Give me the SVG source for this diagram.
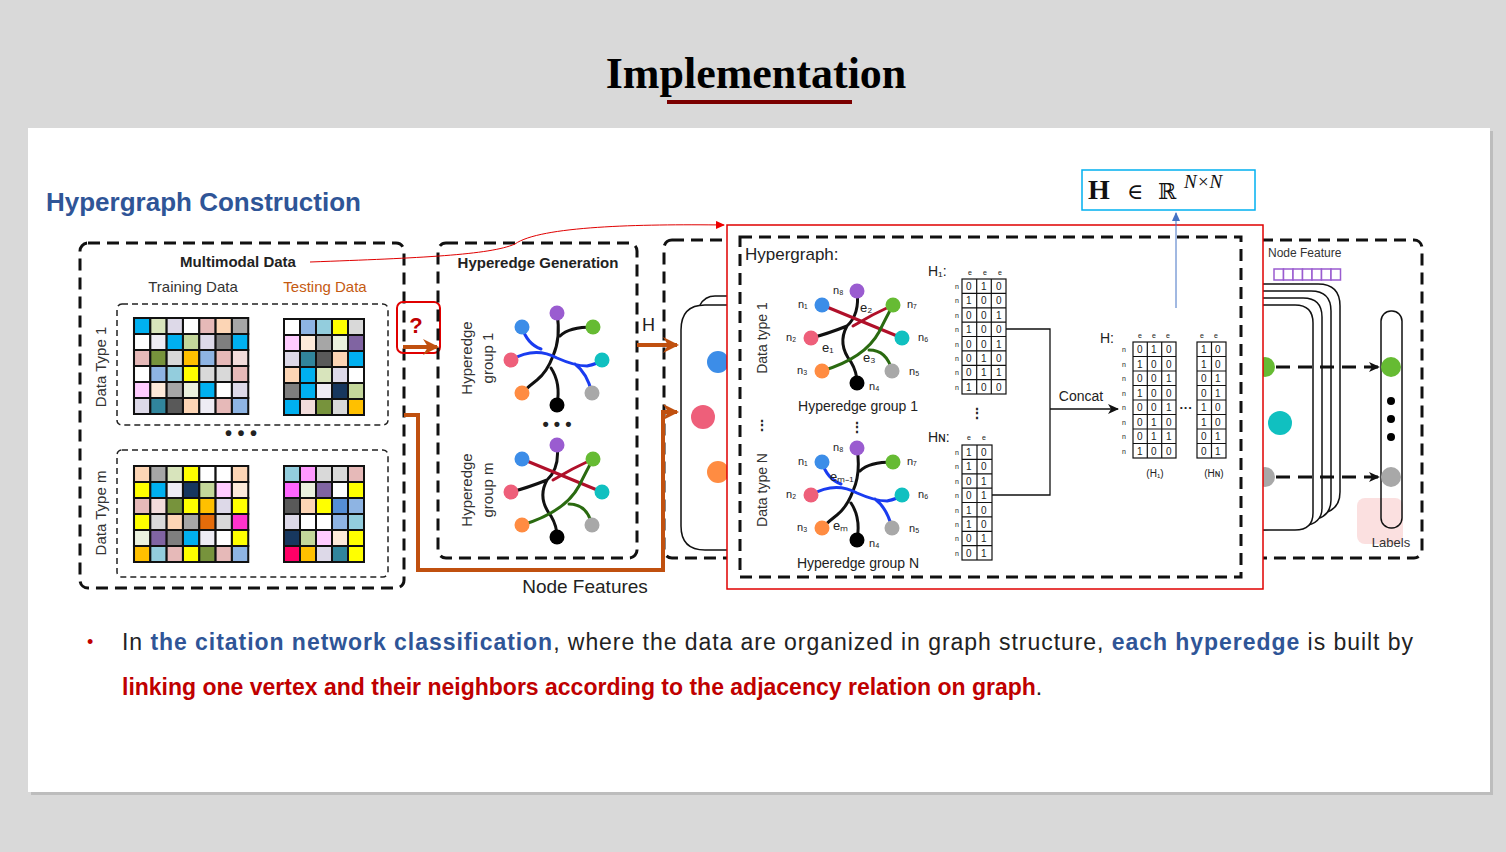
<svg xmlns="http://www.w3.org/2000/svg" xmlns:xlink="http://www.w3.org/1999/xlink" width="1506" height="852" viewBox="0 0 1506 852">
<style>
text{font-family:"Liberation Sans",Arial,sans-serif;fill:#222}
.dash{fill:none;stroke:#111;stroke-width:3;stroke-dasharray:12 7}
.dash2{fill:none;stroke:#222;stroke-width:1.5;stroke-dasharray:6 4}
.c{stroke:#111;stroke-width:2}
.m{fill:#fff;stroke:#111;stroke-width:1.2}
.mv{font-size:10px}
.nl{font-size:7px}
.t{stroke-width:3;fill:none;stroke-linecap:round}
.or{stroke:#c0500f;stroke-width:4;fill:none}
</style>
<defs>
<marker id="oa" markerWidth="20" markerHeight="20" refX="14" refY="8" orient="auto" markerUnits="userSpaceOnUse"><path d="M0,0 L16,8 L0,16 L5,8z" fill="#c0500f"/></marker>
<marker id="ka" markerWidth="12" markerHeight="10" refX="10" refY="5" orient="auto" markerUnits="userSpaceOnUse"><path d="M0,0 L11,5 L0,10 L3,5z" fill="#111"/></marker>
<marker id="ra" markerWidth="10" markerHeight="8" refX="8" refY="4" orient="auto" markerUnits="userSpaceOnUse"><path d="M0,0 L9,4 L0,8z" fill="#e00"/></marker>
<marker id="ba" markerWidth="10" markerHeight="8" refX="8" refY="4" orient="auto" markerUnits="userSpaceOnUse"><path d="M0,0 L9,4 L0,8z" fill="#4472c4"/></marker>
<g id="nodes">
<circle cx="0" cy="-45" r="7.5" fill="#9a5cd0"/><circle cx="-35" cy="-31" r="7.5" fill="#3c8de8"/><circle cx="36" cy="-31" r="7.5" fill="#66bb33"/><circle cx="-46" cy="2" r="7.5" fill="#ee5f7a"/><circle cx="45" cy="2" r="7.5" fill="#10c0c0"/><circle cx="-35" cy="35" r="7.5" fill="#ff8c42"/><circle cx="35" cy="35" r="7.5" fill="#a8a8a8"/><circle cx="0" cy="47" r="7.5" fill="#000"/>
</g>
<g id="gA">
<path class="t" stroke="#111" d="M0,-45 Q4,-20 -4,-2 Q-10,14 -20,22 Q-28,28 -35,35 M-6,10 Q4,25 0,47 M3,-22 Q12,-31 36,-31"/>
<path class="t" stroke="#1a3cf0" d="M-35,-31 Q-30,-14 -16,-9 M-46,2 Q-22,-12 0,0 Q18,8 30,8 Q40,6 45,2 M18,6 Q30,15 35,35"/>
<use href="#nodes"/>
</g>
<g id="gB">
<path class="t" stroke="#111" d="M0,-45 Q3,-22 -10,-10 Q-30,-2 -46,2 M-10,-10 Q-20,8 -6,26 Q0,36 0,47"/>
<path class="t" stroke="#b0102a" d="M-35,-31 L45,2 M-4,-10 Q16,-22 36,-31"/>
<path class="t" stroke="#2a6a10" d="M-35,35 Q8,22 22,-4 Q30,-20 36,-31 M12,14 Q30,14 35,35"/>
<use href="#nodes"/>
</g>
</defs>
<rect width="1506" height="852" fill="#d9d9d9"/>
<rect x="31" y="131" width="1462" height="664" fill="#bdbdbd"/>
<rect x="28" y="128" width="1462" height="664" fill="#fff"/>
<text x="756" y="88" text-anchor="middle" style="font-family:'Liberation Serif',serif;font-weight:bold;font-size:44px;fill:#000">Implementation</text>
<rect x="667" y="100" width="185" height="4" fill="#7b0000"/>
<text x="46" y="211" style="font-weight:bold;font-size:26px;fill:#2f5597">Hypergraph Construction</text>

<g id="multimodal">
<rect class="dash" x="80" y="243" width="324" height="345" rx="8"/>
<text x="238" y="267" text-anchor="middle" style="font-weight:bold;font-size:15px">Multimodal Data</text>
<text x="193" y="292" text-anchor="middle" style="font-size:15px;fill:#333">Training Data</text>
<text x="325" y="292" text-anchor="middle" style="font-size:15px;fill:#c55a11">Testing Data</text>
<rect class="dash2" x="117" y="304" width="271" height="121" rx="5"/>
<rect class="dash2" x="117" y="450" width="271" height="127" rx="5"/>
<text x="241" y="440" text-anchor="middle" style="font-size:20px;font-weight:bold">• • •</text>
<text transform="translate(106,367) rotate(-90)" text-anchor="middle" style="font-size:15px;fill:#333">Data Type 1</text>
<text transform="translate(106,513) rotate(-90)" text-anchor="middle" style="font-size:15px;fill:#333">Data Type m</text>
<g transform="translate(134,318) scale(1.02,1)">
<g class="c">
<rect x="0" y="0" width="16" height="16" fill="#00b0f0"/><rect x="16" y="0" width="16" height="16" fill="#d8e4bc"/><rect x="32" y="0" width="16" height="16" fill="#ddd9e8"/><rect x="48" y="0" width="16" height="16" fill="#fff"/><rect x="64" y="0" width="16" height="16" fill="#e6b9b8"/><rect x="80" y="0" width="16" height="16" fill="#fcd5b5"/><rect x="96" y="0" width="16" height="16" fill="#a6a6a6"/>
<rect x="0" y="16" width="16" height="16" fill="#fff"/><rect x="16" y="16" width="16" height="16" fill="#eeecf4"/><rect x="32" y="16" width="16" height="16" fill="#00b0f0"/><rect x="48" y="16" width="16" height="16" fill="#c4d79b"/><rect x="64" y="16" width="16" height="16" fill="#ddd9e8"/><rect x="80" y="16" width="16" height="16" fill="#7f7f7f"/><rect x="96" y="16" width="16" height="16" fill="#00b0f0"/>
<rect x="0" y="32" width="16" height="16" fill="#e6b9b8"/><rect x="16" y="32" width="16" height="16" fill="#77933c"/><rect x="32" y="32" width="16" height="16" fill="#d9d9d9"/><rect x="48" y="32" width="16" height="16" fill="#ffc000"/><rect x="64" y="32" width="16" height="16" fill="#8eb4e3"/><rect x="80" y="32" width="16" height="16" fill="#e6b9b8"/><rect x="96" y="32" width="16" height="16" fill="#f2dcdb"/>
<rect x="0" y="48" width="16" height="16" fill="#fff"/><rect x="16" y="48" width="16" height="16" fill="#8eb4e3"/><rect x="32" y="48" width="16" height="16" fill="#93cddd"/><rect x="48" y="48" width="16" height="16" fill="#ffff00"/><rect x="64" y="48" width="16" height="16" fill="#d9d9d9"/><rect x="80" y="48" width="16" height="16" fill="#d9d9d9"/><rect x="96" y="48" width="16" height="16" fill="#e6b9b8"/>
<rect x="0" y="64" width="16" height="16" fill="#ffccff"/><rect x="16" y="64" width="16" height="16" fill="#fdeada"/><rect x="32" y="64" width="16" height="16" fill="#a6a6a6"/><rect x="48" y="64" width="16" height="16" fill="#ebf1de"/><rect x="64" y="64" width="16" height="16" fill="#00b0f0"/><rect x="80" y="64" width="16" height="16" fill="#fff"/><rect x="96" y="64" width="16" height="16" fill="#ddd9e8"/>
<rect x="0" y="80" width="16" height="16" fill="#ddd9e8"/><rect x="16" y="80" width="16" height="16" fill="#31859c"/><rect x="32" y="80" width="16" height="16" fill="#595959"/><rect x="48" y="80" width="16" height="16" fill="#fcd5b5"/><rect x="64" y="80" width="16" height="16" fill="#eeecf4"/><rect x="80" y="80" width="16" height="16" fill="#e6b9b8"/><rect x="96" y="80" width="16" height="16" fill="#8eb4e3"/>
</g></g>
<g transform="translate(284,319)" class="c">
<rect x="0" y="0" width="16" height="16" fill="#fff"/><rect x="16" y="0" width="16" height="16" fill="#8eb4e3"/><rect x="32" y="0" width="16" height="16" fill="#93cddd"/><rect x="48" y="0" width="16" height="16" fill="#ffff00"/><rect x="64" y="0" width="16" height="16" fill="#d9d9d9"/>
<rect x="0" y="16" width="16" height="16" fill="#ffccff"/><rect x="16" y="16" width="16" height="16" fill="#fdeada"/><rect x="32" y="16" width="16" height="16" fill="#a6a6a6"/><rect x="48" y="16" width="16" height="16" fill="#ebf1de"/><rect x="64" y="16" width="16" height="16" fill="#8064a2"/>
<rect x="0" y="32" width="16" height="16" fill="#ddd9e8"/><rect x="16" y="32" width="16" height="16" fill="#31859c"/><rect x="32" y="32" width="16" height="16" fill="#595959"/><rect x="48" y="32" width="16" height="16" fill="#fcd5b5"/><rect x="64" y="32" width="16" height="16" fill="#00b0f0"/>
<rect x="0" y="48" width="16" height="16" fill="#fcd5b5"/><rect x="16" y="48" width="16" height="16" fill="#00b0f0"/><rect x="32" y="48" width="16" height="16" fill="#d8e4bc"/><rect x="48" y="48" width="16" height="16" fill="#ddd9e8"/><rect x="64" y="48" width="16" height="16" fill="#fff"/>
<rect x="0" y="64" width="16" height="16" fill="#7f7f7f"/><rect x="16" y="64" width="16" height="16" fill="#00b0f0"/><rect x="32" y="64" width="16" height="16" fill="#eeecf4"/><rect x="48" y="64" width="16" height="16" fill="#17375e"/><rect x="64" y="64" width="16" height="16" fill="#c4d79b"/>
<rect x="0" y="80" width="16" height="16" fill="#00b0f0"/><rect x="16" y="80" width="16" height="16" fill="#f2dcdb"/><rect x="32" y="80" width="16" height="16" fill="#77933c"/><rect x="48" y="80" width="16" height="16" fill="#d9d9d9"/><rect x="64" y="80" width="16" height="16" fill="#ffc000"/>
</g>
<g transform="translate(134,466) scale(1.02,1)">
<g class="c">
<rect x="0" y="0" width="16" height="16" fill="#fcd5b5"/><rect x="16" y="0" width="16" height="16" fill="#a6a6a6"/><rect x="32" y="0" width="16" height="16" fill="#d8e4bc"/><rect x="48" y="0" width="16" height="16" fill="#ffff00"/><rect x="64" y="0" width="16" height="16" fill="#fff"/><rect x="80" y="0" width="16" height="16" fill="#fff"/><rect x="96" y="0" width="16" height="16" fill="#fcd5b5"/>
<rect x="0" y="16" width="16" height="16" fill="#ffff00"/><rect x="16" y="16" width="16" height="16" fill="#00b0f0"/><rect x="32" y="16" width="16" height="16" fill="#eeecf4"/><rect x="48" y="16" width="16" height="16" fill="#17375e"/><rect x="64" y="16" width="16" height="16" fill="#c4d79b"/><rect x="80" y="16" width="16" height="16" fill="#ffccff"/><rect x="96" y="16" width="16" height="16" fill="#fdeada"/>
<rect x="0" y="32" width="16" height="16" fill="#e6b9b8"/><rect x="16" y="32" width="16" height="16" fill="#f2dcdb"/><rect x="32" y="32" width="16" height="16" fill="#77933c"/><rect x="48" y="32" width="16" height="16" fill="#ffff00"/><rect x="64" y="32" width="16" height="16" fill="#ffc000"/><rect x="80" y="32" width="16" height="16" fill="#ddd9e8"/><rect x="96" y="32" width="16" height="16" fill="#ffff00"/>
<rect x="0" y="48" width="16" height="16" fill="#ffff00"/><rect x="16" y="48" width="16" height="16" fill="#d9d9d9"/><rect x="32" y="48" width="16" height="16" fill="#fcd5b5"/><rect x="48" y="48" width="16" height="16" fill="#a6a6a6"/><rect x="64" y="48" width="16" height="16" fill="#e46c0a"/><rect x="80" y="48" width="16" height="16" fill="#d9d9d9"/><rect x="96" y="48" width="16" height="16" fill="#ff33cc"/>
<rect x="0" y="64" width="16" height="16" fill="#ebf1de"/><rect x="16" y="64" width="16" height="16" fill="#8064a2"/><rect x="32" y="64" width="16" height="16" fill="#7f7f7f"/><rect x="48" y="64" width="16" height="16" fill="#00b0f0"/><rect x="64" y="64" width="16" height="16" fill="#eeecf4"/><rect x="80" y="64" width="16" height="16" fill="#fff"/><rect x="96" y="64" width="16" height="16" fill="#ffff00"/>
<rect x="0" y="80" width="16" height="16" fill="#ffc000"/><rect x="16" y="80" width="16" height="16" fill="#93cddd"/><rect x="32" y="80" width="16" height="16" fill="#e6b9b8"/><rect x="48" y="80" width="16" height="16" fill="#ffff00"/><rect x="64" y="80" width="16" height="16" fill="#77933c"/><rect x="80" y="80" width="16" height="16" fill="#e6b9b8"/><rect x="96" y="80" width="16" height="16" fill="#8eb4e3"/>
</g></g>
<g transform="translate(284,466)" class="c">
<rect x="0" y="0" width="16" height="16" fill="#93cddd"/><rect x="16" y="0" width="16" height="16" fill="#ff99ff"/><rect x="32" y="0" width="16" height="16" fill="#d9d9d9"/><rect x="48" y="0" width="16" height="16" fill="#d9d9d9"/><rect x="64" y="0" width="16" height="16" fill="#e6b9b8"/>
<rect x="0" y="16" width="16" height="16" fill="#ff66ff"/><rect x="16" y="16" width="16" height="16" fill="#ebf1de"/><rect x="32" y="16" width="16" height="16" fill="#8064a2"/><rect x="48" y="16" width="16" height="16" fill="#fff"/><rect x="64" y="16" width="16" height="16" fill="#ffff00"/>
<rect x="0" y="32" width="16" height="16" fill="#595959"/><rect x="16" y="32" width="16" height="16" fill="#fcd5b5"/><rect x="32" y="32" width="16" height="16" fill="#ffff00"/><rect x="48" y="32" width="16" height="16" fill="#558ed5"/><rect x="64" y="32" width="16" height="16" fill="#8eb4e3"/>
<rect x="0" y="48" width="16" height="16" fill="#ddd9e8"/><rect x="16" y="48" width="16" height="16" fill="#fff"/><rect x="32" y="48" width="16" height="16" fill="#fff"/><rect x="48" y="48" width="16" height="16" fill="#8eb4e3"/><rect x="64" y="48" width="16" height="16" fill="#93cddd"/>
<rect x="0" y="64" width="16" height="16" fill="#17375e"/><rect x="16" y="64" width="16" height="16" fill="#c4d79b"/><rect x="32" y="64" width="16" height="16" fill="#ffccff"/><rect x="48" y="64" width="16" height="16" fill="#fdeada"/><rect x="64" y="64" width="16" height="16" fill="#ffff00"/>
<rect x="0" y="80" width="16" height="16" fill="#ff0066"/><rect x="16" y="80" width="16" height="16" fill="#ffc000"/><rect x="32" y="80" width="16" height="16" fill="#ddd9e8"/><rect x="48" y="80" width="16" height="16" fill="#31859c"/><rect x="64" y="80" width="16" height="16" fill="#ffff00"/>
</g>
</g>

<g id="question">
<rect x="397" y="302" width="43" height="51" rx="6" fill="none" stroke="#e00000" stroke-width="2"/>
<text x="416" y="333" text-anchor="middle" style="font-weight:bold;font-size:22px;fill:#c00000">?</text>
</g>

<g id="hyperedge-generation">
<rect class="dash" x="438" y="243" width="199" height="315" rx="8"/>
<text x="538" y="268" text-anchor="middle" style="font-weight:bold;font-size:15px">Hyperedge Generation</text>
<text transform="translate(472,358) rotate(-90)" text-anchor="middle" style="font-size:15px;fill:#333">Hyperedge</text>
<text transform="translate(493,358) rotate(-90)" text-anchor="middle" style="font-size:15px;fill:#333">group 1</text>
<text transform="translate(472,490) rotate(-90)" text-anchor="middle" style="font-size:15px;fill:#333">Hyperedge</text>
<text transform="translate(493,490) rotate(-90)" text-anchor="middle" style="font-size:15px;fill:#333">group m</text>
<use href="#gA" transform="translate(557,358)"/>
<use href="#gB" transform="translate(557,490)"/>
<text x="557" y="430" text-anchor="middle" style="font-size:18px;font-weight:bold">• • •</text>
</g>
<text x="585" y="593" text-anchor="middle" style="font-size:19px;fill:#222">Node Features</text>
<text x="642" y="331" style="font-size:18px">H</text>

<g id="hgnn">
<rect class="dash" x="664" y="240" width="758" height="318" rx="8"/>
<path d="M681,330 Q681,305 705,305 L740,305 L740,550 L705,550 Q681,550 681,526z" fill="#fff" stroke="#111" stroke-width="1.5"/>
<path d="M700,305 Q705,296 715,296 L740,296" fill="none" stroke="#111" stroke-width="1.5"/>
<circle cx="718" cy="362" r="11" fill="#3c8de8"/><circle cx="703" cy="417" r="12" fill="#ee5f7a"/><circle cx="718" cy="472" r="11" fill="#ff8c42"/>
<g fill="#fff" stroke="#111" stroke-width="1.5">
<path d="M1262,284 L1318,284 Q1340,284 1340,306 L1340,492 Q1340,512 1318,514 L1262,520z"/>
<path d="M1262,291 L1311,291 Q1331,291 1331,311 L1331,500 Q1331,518 1311,520 L1262,526z"/>
<path d="M1262,298 L1303,298 Q1322,298 1322,317 L1322,508 Q1322,524 1303,526 L1262,530z"/>
<path d="M1262,305 L1295,305 Q1313,305 1313,323 L1313,513 Q1313,530 1295,530 L1262,530z"/>
</g>
<circle cx="1265" cy="367" r="10" fill="#66bb33"/><circle cx="1280" cy="423" r="12" fill="#10c0c0"/><circle cx="1265" cy="477" r="10" fill="#a8a8a8"/>
<text x="1268" y="257" style="font-size:12px;fill:#333">Node Feature</text>
<g fill="#fff" stroke="#9a5cd0" stroke-width="1.5">
<rect x="1274" y="269" width="9.5" height="11"/><rect x="1283.5" y="269" width="9.5" height="11"/><rect x="1293" y="269" width="9.5" height="11"/><rect x="1302.5" y="269" width="9.5" height="11"/><rect x="1312" y="269" width="9.5" height="11"/><rect x="1321.5" y="269" width="9.5" height="11"/><rect x="1331" y="269" width="9.5" height="11"/>
</g>
<rect x="1357" y="498" width="46" height="46" rx="8" fill="#fbe0e0"/>
<rect x="1381" y="311" width="21" height="217" rx="10" fill="none" stroke="#111" stroke-width="1.5"/>
<circle cx="1391" cy="367" r="10" fill="#66bb33"/><circle cx="1391" cy="477" r="10" fill="#a8a8a8"/>
<circle cx="1391" cy="401" r="4" fill="#000"/><circle cx="1391" cy="419" r="4" fill="#000"/><circle cx="1391" cy="437" r="4" fill="#000"/>
<text x="1391" y="547" text-anchor="middle" style="font-size:13px;fill:#333">Labels</text>
</g>

<g id="hypergraph-panel">
<rect x="727" y="225" width="536" height="364" fill="#fff" stroke="#e00000" stroke-width="1.5"/>
<rect class="dash" x="740" y="237" width="501" height="340"/>
<text x="745" y="260" style="font-size:17px">Hypergraph:</text>
<text transform="translate(767,338) rotate(-90)" text-anchor="middle" style="font-size:14px;fill:#333">Data type 1</text>
<text transform="translate(767,490) rotate(-90)" text-anchor="middle" style="font-size:14px;fill:#333">Data type N</text>
<text x="762" y="430" text-anchor="middle" style="font-size:14px;font-weight:bold">⋮</text>
<use href="#gB" transform="translate(857,336)"/>
<use href="#gA" transform="translate(857,493)"/>
<g style="font-size:11px">
<text x="833" y="294">n₈</text><text x="798" y="308">n₁</text><text x="907" y="308">n₇</text><text x="786" y="341">n₂</text><text x="918" y="341">n₆</text><text x="797" y="374">n₃</text><text x="909" y="375">n₅</text><text x="869" y="390">n₄</text>
<text x="833" y="451">n₈</text><text x="798" y="465">n₁</text><text x="907" y="465">n₇</text><text x="786" y="498">n₂</text><text x="918" y="498">n₆</text><text x="797" y="531">n₃</text><text x="909" y="532">n₅</text><text x="869" y="547">n₄</text>
</g>
<g style="font-size:13px"><text x="860" y="312">e₂</text><text x="822" y="352">e₁</text><text x="863" y="362">e₃</text><text x="830" y="481">eₘ₋₁</text><text x="833" y="530">eₘ</text></g>
<text x="858" y="411" text-anchor="middle" style="font-size:14px">Hyperedge group 1</text>
<text x="858" y="568" text-anchor="middle" style="font-size:14px">Hyperedge group N</text>
<text x="857" y="432" text-anchor="middle" style="font-size:14px;font-weight:bold">⋮</text>
<text x="928" y="276" style="font-size:14px">H₁:</text>
<text x="928" y="442" style="font-size:14px">Hɴ:</text>
<text x="977" y="418" text-anchor="middle" style="font-size:14px;font-weight:bold">⋮</text>
<text x="1100" y="343" style="font-size:14px">H:</text>
<text x="1081" y="401" text-anchor="middle" style="font-size:14px">Concat</text>
<text x="1186" y="412" text-anchor="middle" style="font-size:13px;font-weight:bold">···</text>
<text x="1155" y="477" text-anchor="middle" style="font-size:10px">(H₁)</text>
<text x="1214" y="477" text-anchor="middle" style="font-size:10px">(Hɴ)</text>
</g>

<g id="H1matrix">
<rect class="m" x="962" y="279" width="44" height="115"/>
<path d="M976.7,279V394M991.3,279V394M962,293.4H1006M962,307.8H1006M962,322.1H1006M962,336.5H1006M962,350.9H1006M962,365.3H1006M962,379.6H1006" stroke="#111" stroke-width="1.2"/>
<text class="nl" x="968 983 998" y="275">eee</text>
<g class="nl"><text x="955" y="289">n</text><text x="955" y="303">n</text><text x="955" y="318">n</text><text x="955" y="332">n</text><text x="955" y="347">n</text><text x="955" y="361">n</text><text x="955" y="375">n</text><text x="955" y="390">n</text></g>
<g class="mv"><text x="966 981 996" y="290">010</text><text x="966 981 996" y="304">100</text><text x="966 981 996" y="319">001</text><text x="966 981 996" y="333">100</text><text x="966 981 996" y="348">001</text><text x="966 981 996" y="362">010</text><text x="966 981 996" y="376">011</text><text x="966 981 996" y="391">100</text></g>
</g>
<g id="HNmatrix">
<rect class="m" x="962" y="445" width="30" height="115"/>
<path d="M977,445V560M962,459.4H992M962,473.8H992M962,488.1H992M962,502.5H992M962,516.9H992M962,531.3H992M962,545.6H992" stroke="#111" stroke-width="1.2"/>
<text class="nl" x="967 982" y="440">ee</text>
<g class="nl"><text x="955" y="455">n</text><text x="955" y="469">n</text><text x="955" y="484">n</text><text x="955" y="498">n</text><text x="955" y="513">n</text><text x="955" y="527">n</text><text x="955" y="541">n</text><text x="955" y="556">n</text></g>
<g class="mv"><text x="966 981" y="456">10</text><text x="966 981" y="470">10</text><text x="966 981" y="485">01</text><text x="966 981" y="499">01</text><text x="966 981" y="514">10</text><text x="966 981" y="528">10</text><text x="966 981" y="542">01</text><text x="966 981" y="557">01</text></g>
</g>
<g id="Hmatrix">
<rect class="m" x="1133" y="342" width="43" height="116"/>
<path d="M1147.3,342V458M1161.7,342V458M1133,356.5H1176M1133,371H1176M1133,385.5H1176M1133,400H1176M1133,414.5H1176M1133,429H1176M1133,443.5H1176" stroke="#111" stroke-width="1.2"/>
<rect class="m" x="1197" y="342" width="29" height="116"/>
<path d="M1211.5,342V458M1197,356.5H1226M1197,371H1226M1197,385.5H1226M1197,400H1226M1197,414.5H1226M1197,429H1226M1197,443.5H1226" stroke="#111" stroke-width="1.2"/>
<text class="nl" x="1138 1152 1166" y="338">eee</text>
<text class="nl" x="1200 1214" y="338">ee</text>
<g class="nl"><text x="1122" y="352">n</text><text x="1122" y="367">n</text><text x="1122" y="381">n</text><text x="1122" y="396">n</text><text x="1122" y="410">n</text><text x="1122" y="425">n</text><text x="1122" y="439">n</text><text x="1122" y="454">n</text></g>
<g class="mv"><text x="1137 1151 1166" y="353">010</text><text x="1137 1151 1166" y="368">100</text><text x="1137 1151 1166" y="382">001</text><text x="1137 1151 1166" y="397">100</text><text x="1137 1151 1166" y="411">001</text><text x="1137 1151 1166" y="426">010</text><text x="1137 1151 1166" y="440">011</text><text x="1137 1151 1166" y="455">100</text>
<text x="1201 1215" y="353">10</text><text x="1201 1215" y="368">10</text><text x="1201 1215" y="382">01</text><text x="1201 1215" y="397">01</text><text x="1201 1215" y="411">10</text><text x="1201 1215" y="426">10</text><text x="1201 1215" y="440">01</text><text x="1201 1215" y="455">01</text></g>
</g>

<g id="formula">
<rect x="1082" y="170" width="173" height="40" fill="#fff" stroke="#00b0f0" stroke-width="1.5"/>
<text x="1088" y="199" style="font-family:'Liberation Serif',serif;font-size:28px;font-weight:bold;fill:#111">H</text>
<text x="1127" y="199" style="font-family:'DejaVu Serif',serif;font-size:22px;fill:#111">∈</text>
<text x="1158" y="199" style="font-family:'DejaVu Serif',serif;font-size:22px;fill:#111">ℝ</text>
<text x="1184" y="188" style="font-family:'Liberation Serif',serif;font-size:19px;font-style:italic;fill:#111">N×N</text>
</g>

<g id="connectors">
<path d="M310,262 C420,258 490,255 515,244 C540,226 640,224 724,225" fill="none" stroke="#e00000" stroke-width="1" marker-end="url(#ra)"/>
<line x1="1176" y1="308" x2="1176" y2="213" stroke="#4472c4" stroke-width="1" marker-end="url(#ba)"/>
<line x1="403" y1="347" x2="437" y2="347" class="or" stroke-width="3" marker-end="url(#oa)"/>
<path d="M404,415 H418 V570 H663 V412 H677" class="or" marker-end="url(#oa)"/>
<line x1="637" y1="345" x2="677" y2="345" class="or" stroke-width="3" marker-end="url(#oa)"/>
<path d="M1006,329 H1050 V495 H992 M1050,409 H1118" fill="none" stroke="#111" stroke-width="1.3" marker-end="url(#ka)"/>
<line x1="1276" y1="367" x2="1379" y2="367" stroke="#111" stroke-width="3" stroke-dasharray="14 8" marker-end="url(#ka)"/>
<line x1="1276" y1="477" x2="1379" y2="477" stroke="#111" stroke-width="3" stroke-dasharray="14 8" marker-end="url(#ka)"/>
</g>

<g id="bullet" style="font-size:23px">
<text x="87" y="648" style="font-size:18px;fill:#c00000">•</text>
<text x="122" y="650" textLength="1291"><tspan>In </tspan><tspan style="font-weight:bold;fill:#2f5597">the citation network classification</tspan><tspan>, where the data are organized in graph structure, </tspan><tspan style="font-weight:bold;fill:#2f5597">each hyperedge</tspan><tspan> is built by</tspan></text>
<text x="122" y="695"><tspan style="font-weight:bold;fill:#c00000">linking one vertex and their neighbors according to the adjacency relation on graph</tspan><tspan>.</tspan></text>
</g>
</svg>
